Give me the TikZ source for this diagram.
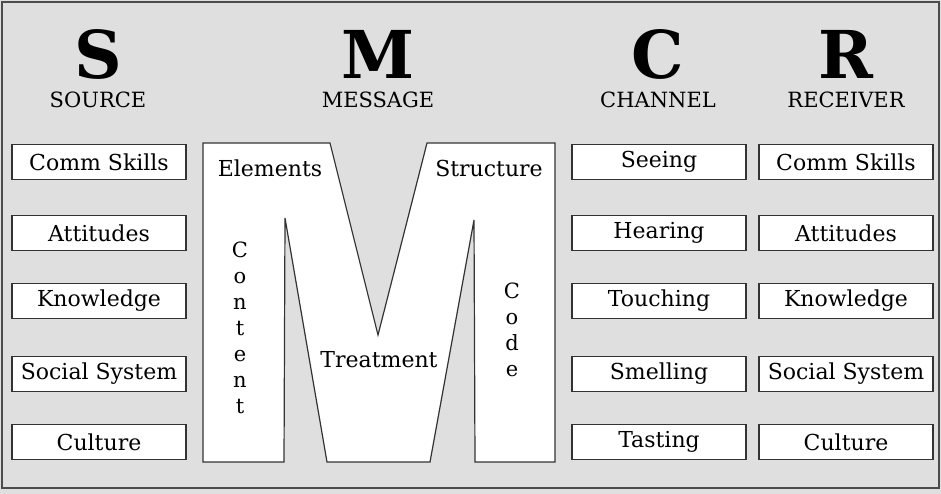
\documentclass[tikz,border=0pt]{standalone}
\usepackage{fontspec}
\setmainfont{DejaVu Serif}
\begin{document}
\begin{tikzpicture}[x=1pt,y=-1pt,
  box/.style={draw=black!80,line width=1.2pt,fill=white,minimum width=174pt,minimum height=35pt,inner sep=0pt,font=\fontsize{22}{24}\selectfont},
  big/.style={font=\fontsize{66}{66}\selectfont\bfseries},
  sub/.style={font=\fontsize{21}{23}\selectfont},
  lab/.style={font=\fontsize{22}{24}\selectfont}]
\useasboundingbox (0,0) rectangle (941,494);
\fill[gray!25] (0,0) rectangle (941,494);
\draw[black!70,line width=1.5pt] (2,2) rectangle (939,488);
% headers
\foreach \n/\x/\L/\W in {s/98/S/SOURCE,m/378/M/MESSAGE,c/658/C/CHANNEL,r/846/R/RECEIVER}{
  \node[big] (h\n) at (\x,54) {\L};
  \node[sub] (t\n) at (\x,100) {\W};
}
% columns
\foreach \i/\y/\a/\b/\c in {1/162/Comm Skills/Seeing/Comm Skills,2/233/Attitudes/Hearing/Attitudes,3/301/Knowledge/Touching/Knowledge,4/374/Social System/Smelling/Social System,5/442/Culture/Tasting/Culture}{
  \node[box] (s\i) at (99,\y) {\a};
  \node[box] (c\i) at (659,\y) {\b};
  \node[box] (r\i) at (846,\y) {\c};
}
% M shape
\draw[black!80,line width=1.2pt,fill=white,line join=miter]
 (203,143) -- (330,143) -- (378,335) -- (427,143) -- (555,143) -- (555,462) -- (475,462) -- (474,220) -- (430,462) -- (327,462) -- (285,218) -- (284,462) -- (203,462) -- cycle;
\node[lab] (el) at (270,168) {Elements};
\node[lab] (st) at (489,168) {Structure};
\node[lab] (tr) at (379,360) {Treatment};
\node[lab,align=center,font=\fontsize{21}{26}\selectfont] (co) at (240,328) {C\\o\\n\\t\\e\\n\\t};
\node[lab,align=center,font=\fontsize{21}{26}\selectfont] (cd) at (512,330) {C\\o\\d\\e};
\end{tikzpicture}
\end{document}
